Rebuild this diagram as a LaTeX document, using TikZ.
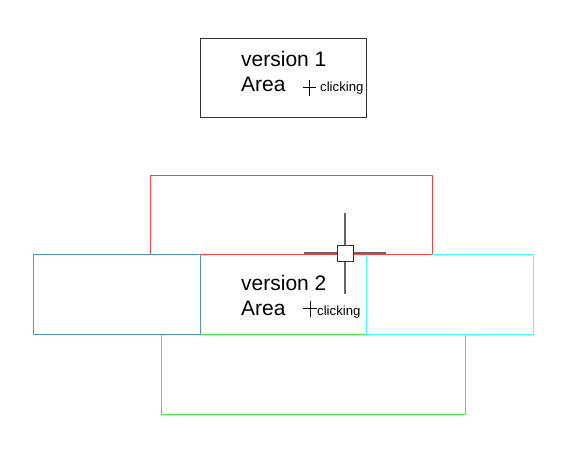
\documentclass[tikz,border=0pt]{standalone}
\usepackage{fontspec}
\setmainfont{Liberation Sans}
\begin{document}
\begin{tikzpicture}[x=1pt,y=-1pt,
  frame/.style={line width=1pt},
  bigtext/.style={anchor=base west,inner sep=0pt,font=\fontsize{21}{23}\selectfont},
  smalltext/.style={anchor=base west,inner sep=0pt,font=\fontsize{13.2}{15}\selectfont},
  cursorline/.style={line width=1.3pt,black,opacity=0.6}]
\definecolor{cred}{HTML}{FF3F3F}
\definecolor{cblue}{HTML}{5291D6}
\definecolor{ccyan}{HTML}{3FFFFF}
\definecolor{cgreen}{HTML}{3FF03F}
\definecolor{cblack}{HTML}{333333}
\useasboundingbox (0,0) rectangle (571,451);
% version 1
\draw[frame,cblack] (200,38) rectangle (366,117);
\node[bigtext] (v1) at (241,66) {version 1};
\node[bigtext] (a1) at (241,91) {Area};
\draw[line width=0.8pt] (303,87) -- (316,87) (309,80) -- (309,96);
\node[smalltext] (c1) at (320,91) {clicking};
% version 2 boxes
\draw[frame,cred] (150,254) -- (150,175) -- (432,175) -- (432,254);
\draw[frame,cgreen] (200,334) -- (161,334) -- (161,414) -- (465,414) -- (465,334) -- (366,334);
\draw[frame,cgreen] (200,334) -- (366,334);
\draw[frame,cblue] (33,254) rectangle (200,334);
\draw[frame,ccyan] (366,254) rectangle (533,334);
\draw[frame,cred] (200,254) -- (366,254);
\draw[frame,cred] (366,254) -- (432,254);
\node[bigtext] (v2) at (241,290) {version 2};
\node[bigtext] (a2) at (241,315) {Area};
\draw[line width=0.8pt] (303,308) -- (317,308) (310,301) -- (310,317);
\node[smalltext] (c2) at (317,315) {clicking};
% cursor
\draw[cursorline] (304,253) -- (337,253) (353,253) -- (386,253);
\draw[cursorline] (345,213) -- (345,245) (345,261) -- (345,294);
\draw[line width=1pt,cblack,fill=white] (337,245) rectangle (353,261);
\end{tikzpicture}
\end{document}
